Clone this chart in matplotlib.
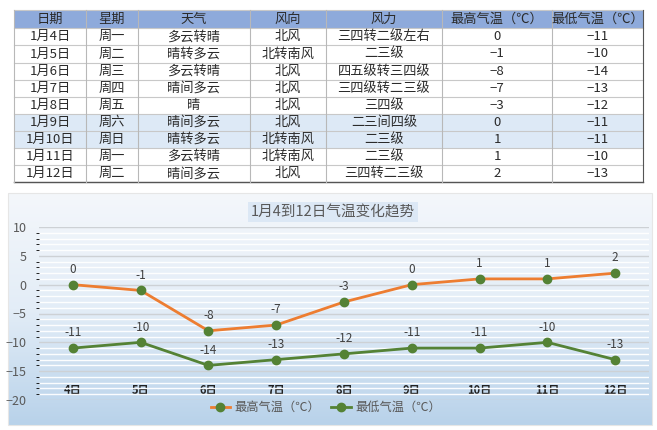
import matplotlib.pyplot as plt
import matplotlib.patches as mpatches
from matplotlib.colors import LinearSegmentedColormap
import numpy as np

plt.rcParams['font.family'] = ['Noto Sans CJK SC', 'DejaVu Sans']

dates = ["1月4日", "1月5日", "1月6日", "1月7日", "1月8日",
         "1月9日", "1月10日", "1月11日", "1月12日"]
weekdays = ["周一", "周二", "周三", "周四", "周五", "周六", "周日", "周一", "周二"]
weather = ["多云转晴", "晴转多云", "多云转晴", "晴间多云", "晴",
           "晴间多云", "晴转多云", "多云转晴", "晴间多云"]
wind_dir = ["北风", "北转南风", "北风", "北风", "北风",
            "北风", "北转南风", "北转南风", "北风"]
wind_force = ["三四转二级左右", "二三级", "四五级转三四级", "三四级转二三级", "三四级",
              "二三间四级", "二三级", "二三级", "三四转二三级"]
t_high = [0, -1, -8, -7, -3, 0, 1, 1, 2]
t_low = [-11, -10, -14, -13, -12, -11, -11, -10, -13]
headers = ["日期", "星期", "天气", "风向", "风力", "最高气温（℃）", "最低气温（℃）"]
days = ["4日", "5日", "6日", "7日", "8日", "9日", "10日", "11日", "12日"]
highlight_rows = [5, 6]

fig = plt.figure(figsize=(6.57, 4.30), dpi=100)
fig.patch.set_facecolor("white")

# ---- table + chart background, drawn in pixel coordinates
bg = fig.add_axes([0, 0, 1, 1])
bg.set_xlim(0, 657)
bg.set_ylim(430, 0)
bg.axis("off")

col_edges = [14, 86, 138, 250, 326, 442, 552, 643]
row_top, row_h = 10, 17.1
head_h = 18.3

bg.add_patch(mpatches.Rectangle((col_edges[0], row_top), col_edges[-1] - col_edges[0], head_h,
                                facecolor="#8eaadb", edgecolor="none"))
for r in highlight_rows:
    y0 = row_top + head_h + r * row_h
    bg.add_patch(mpatches.Rectangle((col_edges[0], y0), col_edges[-1] - col_edges[0], row_h,
                                    facecolor="#dde9f6", edgecolor="none"))

columns = [dates, weekdays, weather, wind_dir, wind_force,
           [str(v) for v in t_high], [str(v) for v in t_low]]
for c, h in enumerate(headers):
    xc = (col_edges[c] + col_edges[c + 1]) / 2
    bg.text(xc, row_top + head_h / 2, h, ha="center", va="center", fontsize=9.5, color="#2b2b2b")
    for r, val in enumerate(columns[c]):
        yc = row_top + head_h + (r + 0.5) * row_h
        val = val.replace("-", "−")
        bg.text(xc, yc, val, ha="center", va="center", fontsize=9.5, color="#2b2b2b")

bottom = row_top + head_h + 9 * row_h
for r in range(10):
    y = row_top + head_h + r * row_h
    bg.plot([col_edges[0], col_edges[-1]], [y, y], color="#c8c8c8", lw=0.8)
bg.plot([col_edges[0], col_edges[-1]], [row_top, row_top], color="#c8c8c8", lw=0.8)
bg.plot([col_edges[0], col_edges[-1]], [bottom, bottom], color="#555555", lw=1.0)
for i, x in enumerate(col_edges):
    c = "#555555" if i == len(col_edges) - 1 else "#b8b8b8"
    bg.plot([x, x], [row_top, bottom], color=c, lw=0.8)

# gradient chart background
cmap = LinearSegmentedColormap.from_list("bgc", ["#f4f7fb", "#e3edf7", "#b8d2ea"])
grad = np.linspace(0, 1, 256).reshape(-1, 1)
bg.imshow(grad, cmap=cmap, extent=[8, 652, 425, 193], aspect="auto", zorder=0)
bg.add_patch(mpatches.Rectangle((8, 193), 644, 232, facecolor="none",
                                edgecolor="#e6e6e6", lw=0.8))
bg.set_xlim(0, 657)
bg.set_ylim(430, 0)

# ---- line chart
ax = fig.add_axes([39 / 657, 30 / 430, 610 / 657, 173 / 430])
ax.patch.set_alpha(0)
x = np.arange(len(days))
ax.set_xlim(-0.5, len(days) - 0.5)
ax.set_ylim(-20, 10)
ax.set_yticks(range(-20, 11, 5))
ax.set_yticks(range(-20, 11, 1), minor=True)
ax.grid(axis="y", which="minor", color="white", lw=1.0, alpha=0.95)
ax.grid(axis="y", which="major", color="#cdd1d5", lw=1.0)
ax.set_axisbelow(True)
for s in ax.spines.values():
    s.set_visible(False)
ax.tick_params(axis="y", length=0, pad=9, labelsize=9, labelcolor="#595959")
ax.set_xticks(x)
ax.set_xticklabels(days, fontsize=8, fontweight="bold", color="#222222")
ax.tick_params(axis="x", length=0, pad=-11.5)

green = "#548235"
ax.plot(x, t_high, color="#ed7d31", lw=2, marker="o", ms=6,
        mfc=green, mec=green, label="最高气温（℃）", zorder=3)
ax.plot(x, t_low, color=green, lw=2, marker="o", ms=6,
        mfc=green, mec=green, label="最低气温（℃）", zorder=3)
for xi, v in zip(x, t_high):
    ax.annotate(str(v), (xi, v), xytext=(0, 11), textcoords="offset points",
                ha="center", va="center", fontsize=8.5, color="#404040")
for xi, v in zip(x, t_low):
    ax.annotate(str(v), (xi, v), xytext=(0, 11), textcoords="offset points",
                ha="center", va="center", fontsize=8.5, color="#404040")

ax.legend(loc="center", bbox_to_anchor=(0.47, -0.045), ncol=2, frameon=False,
          fontsize=8.8, labelcolor="#595959", handlelength=1.6, columnspacing=0.9,
          handletextpad=0.35)

fig.text(333 / 657, 1 - 212 / 430, "1月4到12日气温变化趋势", ha="center", va="center",
         fontsize=10.5, color="#595959",
         bbox=dict(boxstyle="square,pad=0.2", facecolor="#dce8f5", edgecolor="none"))

fig.savefig("out.png", dpi=100)
